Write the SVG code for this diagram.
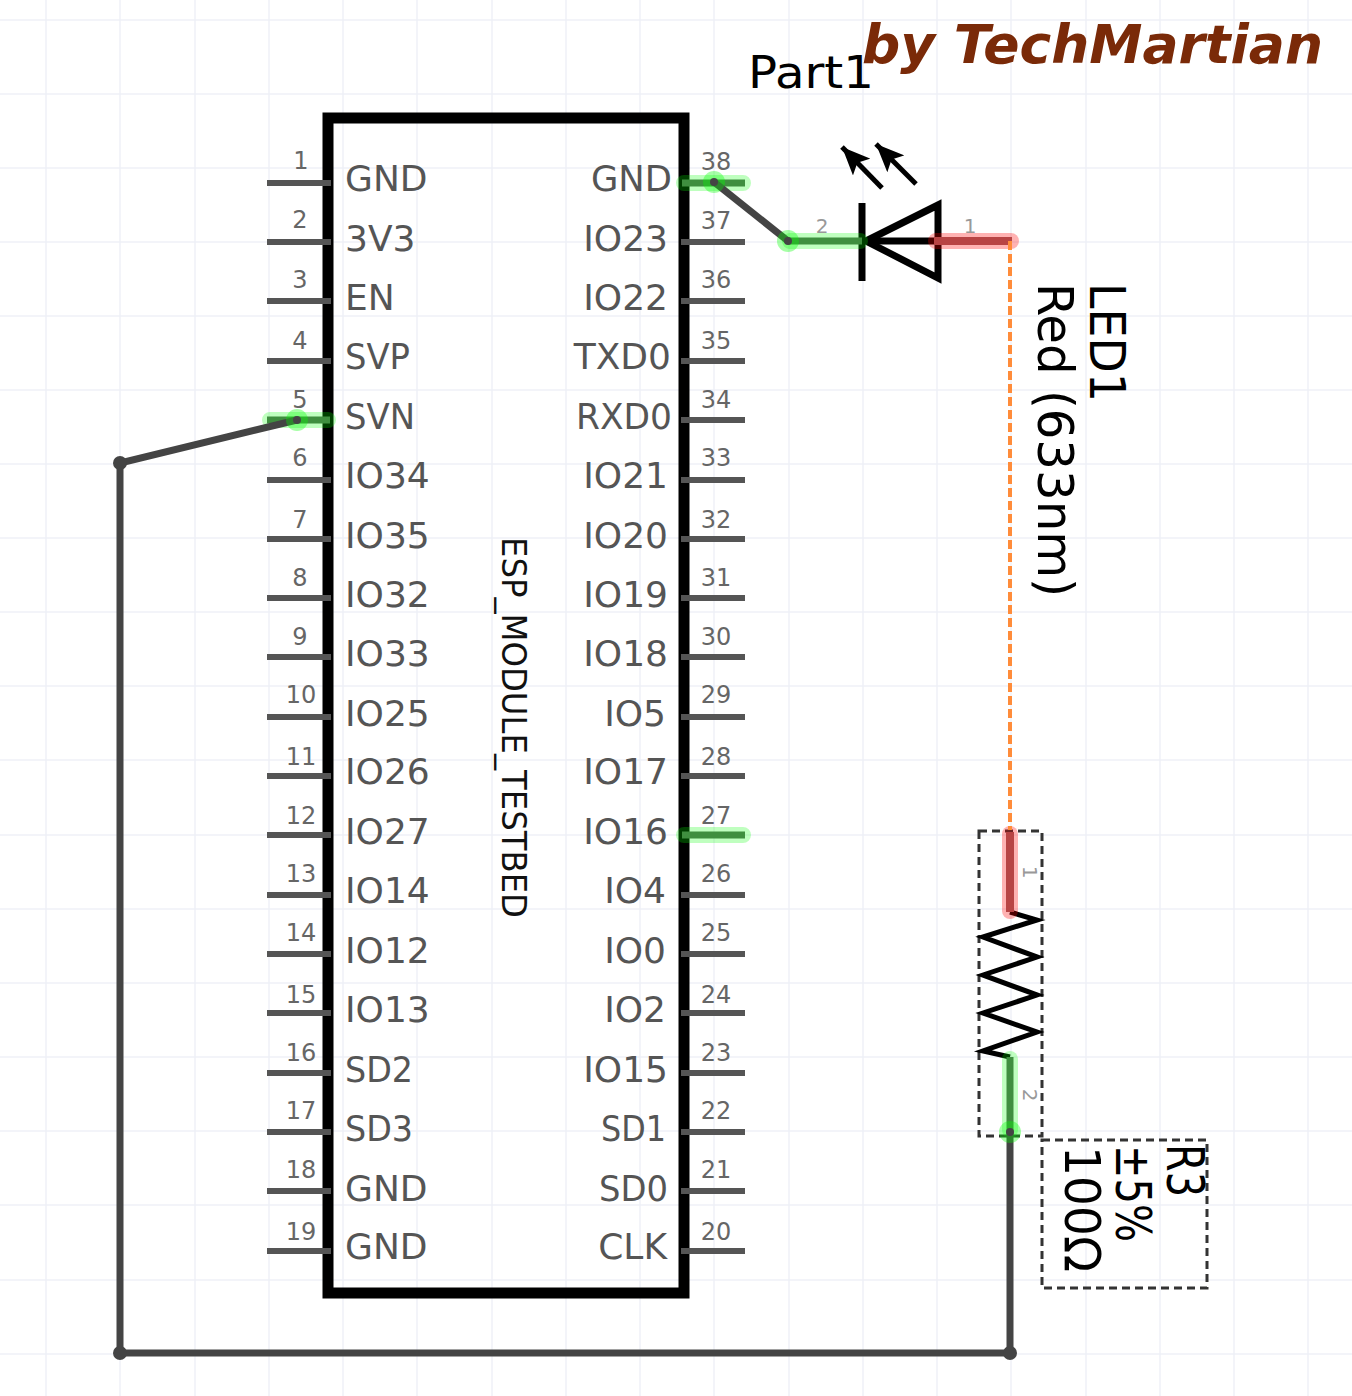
<svg xmlns="http://www.w3.org/2000/svg" width="1352" height="1396" viewBox="0 0 1352 1396">
<defs>
<style>
text{font-family:"DejaVu Sans",sans-serif}
.lab{font-size:36px;fill:#555}
.end{text-anchor:end}
.num{font-size:24px;fill:#666;text-anchor:middle}
.pin{stroke:#555;stroke-width:6;fill:none}
.small{font-size:20px;fill:#999;text-anchor:middle}
.big{font-size:50px;fill:#000}
.glow{stroke:#0f0;stroke-opacity:.25;stroke-width:16;stroke-linecap:round;fill:none}
.gcore{stroke:#3f8f3f;stroke-width:7;fill:none}
.rglow{stroke:#f00;stroke-opacity:.3;stroke-width:16;stroke-linecap:round;fill:none}
.rcore{stroke:#b84444;stroke-width:8;fill:none}
.wire{stroke:#444;stroke-width:7;fill:none}
.dash{fill:none;stroke:#333;stroke-width:3;stroke-dasharray:8 5}
.dot{fill:#444}
.halo{fill:#0f0;fill-opacity:.35}
</style>
<marker id="arrow" markerUnits="userSpaceOnUse" markerWidth="30" markerHeight="24" refX="28" refY="12" orient="auto"><path d="M0 0L28 12L0 24L6 12Z" fill="#000"/></marker>
</defs>
<rect width="1352" height="1396" fill="#fff"/>
<path id="grid" fill="none" stroke="#eff1f7" stroke-width="1.5" d="M46 0V1396M120 0V1396M195 0V1396M269 0V1396M343 0V1396M417 0V1396M492 0V1396M566 0V1396M640 0V1396M714 0V1396M789 0V1396M863 0V1396M937 0V1396M1011 0V1396M1086 0V1396M1160 0V1396M1234 0V1396M1308 0V1396M0 20H1352M0 94H1352M0 168H1352M0 242H1352M0 316H1352M0 390H1352M0 464H1352M0 538H1352M0 612H1352M0 686H1352M0 760H1352M0 835H1352M0 909H1352M0 983H1352M0 1057H1352M0 1131H1352M0 1205H1352M0 1280H1352M0 1354H1352"/>
<g id="U1">
<rect x="328" y="118" width="356" height="1175" fill="none" stroke="#000" stroke-width="11"/>
<path class="pin" d="M267 183H331M267 242H331M267 301H331M267 361H331M267 480H331M267 539H331M267 598H331M267 657H331M267 717H331M267 776H331M267 835H331M267 895H331M267 954H331M267 1013H331M267 1073H331M267 1132H331M267 1191H331M267 1251H331M681 242H745M681 301H745M681 361H745M681 420H745M681 480H745M681 539H745M681 598H745M681 657H745M681 717H745M681 776H745M681 895H745M681 954H745M681 1013H745M681 1073H745M681 1132H745M681 1191H745M681 1251H745"/>
<text class="lab" x="345" y="191">GND</text><text class="lab" x="345" y="251">3V3</text><text class="lab" x="345" y="310">EN</text><text class="lab" x="345" y="369" textLength="65" lengthAdjust="spacingAndGlyphs">SVP</text><text class="lab" x="345" y="429" textLength="70" lengthAdjust="spacingAndGlyphs">SVN</text><text class="lab" x="345" y="488">IO34</text><text class="lab" x="345" y="548">IO35</text><text class="lab" x="345" y="607">IO32</text><text class="lab" x="345" y="666">IO33</text><text class="lab" x="345" y="726">IO25</text><text class="lab" x="345" y="784">IO26</text><text class="lab" x="345" y="844">IO27</text><text class="lab" x="345" y="903">IO14</text><text class="lab" x="345" y="963">IO12</text><text class="lab" x="345" y="1022">IO13</text><text class="lab" x="345" y="1082" textLength="68" lengthAdjust="spacingAndGlyphs">SD2</text><text class="lab" x="345" y="1141" textLength="68" lengthAdjust="spacingAndGlyphs">SD3</text><text class="lab" x="345" y="1201">GND</text><text class="lab" x="345" y="1259">GND</text>
<text class="lab" x="591" y="191" textLength="81" lengthAdjust="spacingAndGlyphs">GND</text><text class="lab end" x="668" y="251">IO23</text><text class="lab end" x="668" y="310">IO22</text><text class="lab end" x="671" y="369">TXD0</text><text class="lab" x="576" y="429" textLength="96" lengthAdjust="spacingAndGlyphs">RXD0</text><text class="lab end" x="668" y="488">IO21</text><text class="lab end" x="668" y="548">IO20</text><text class="lab end" x="668" y="607">IO19</text><text class="lab end" x="668" y="666">IO18</text><text class="lab end" x="666" y="726">IO5</text><text class="lab end" x="668" y="784">IO17</text><text class="lab end" x="668" y="844">IO16</text><text class="lab end" x="666" y="903">IO4</text><text class="lab end" x="666" y="963">IO0</text><text class="lab end" x="666" y="1022">IO2</text><text class="lab end" x="668" y="1082">IO15</text><text class="lab" x="601" y="1141" textLength="65" lengthAdjust="spacingAndGlyphs">SD1</text><text class="lab" x="599" y="1201" textLength="69" lengthAdjust="spacingAndGlyphs">SD0</text><text class="lab end" x="667" y="1259">CLK</text>
<text class="num" x="301" y="169">1</text><text class="num" x="300" y="228">2</text><text class="num" x="300" y="288">3</text><text class="num" x="300" y="349">4</text><text class="num" x="300" y="408">5</text><text class="num" x="300" y="466">6</text><text class="num" x="300" y="528">7</text><text class="num" x="300" y="586">8</text><text class="num" x="300" y="645">9</text><text class="num" x="301" y="703">10</text><text class="num" x="301" y="765">11</text><text class="num" x="301" y="824">12</text><text class="num" x="301" y="882">13</text><text class="num" x="301" y="941">14</text><text class="num" x="301" y="1003">15</text><text class="num" x="301" y="1061">16</text><text class="num" x="301" y="1119">17</text><text class="num" x="301" y="1178">18</text><text class="num" x="301" y="1240">19</text>
<text class="num" x="716" y="170">38</text><text class="num" x="716" y="229">37</text><text class="num" x="716" y="288">36</text><text class="num" x="716" y="349">35</text><text class="num" x="716" y="408">34</text><text class="num" x="716" y="466">33</text><text class="num" x="716" y="528">32</text><text class="num" x="716" y="586">31</text><text class="num" x="716" y="645">30</text><text class="num" x="716" y="703">29</text><text class="num" x="716" y="765">28</text><text class="num" x="716" y="824">27</text><text class="num" x="716" y="882">26</text><text class="num" x="716" y="941">25</text><text class="num" x="716" y="1003">24</text><text class="num" x="716" y="1061">23</text><text class="num" x="716" y="1119">22</text><text class="num" x="716" y="1178">21</text><text class="num" x="716" y="1240">20</text>
<text transform="translate(502 537) rotate(90)" font-size="33" fill="#111" textLength="381" lengthAdjust="spacingAndGlyphs">ESP_MODULE_TESTBED</text>
<path class="glow" d="M270 420H328M684 183H743M684 835H743"/>
<path class="gcore" d="M267 420H330M682 183H745M682 835H745"/>
<text x="748" y="88" font-size="45" textLength="126" lengthAdjust="spacingAndGlyphs">Part1</text>
</g>
<g id="LED1">
<path d="M862 203V281M866 241H938" stroke="#000" stroke-width="7" fill="none"/>
<path d="M866 241L938 205V278Z" fill="none" stroke="#000" stroke-width="7"/>
<path d="M882 188L842 147" stroke="#000" stroke-width="5" fill="none" marker-end="url(#arrow)"/>
<path d="M916 184L876 144" stroke="#000" stroke-width="5" fill="none" marker-end="url(#arrow)"/>
<path class="glow" d="M790 241H860"/><path class="gcore" d="M788 241H862"/>
<path class="rglow" d="M936 241H1011"/><path class="rcore" d="M934 241H1012"/>
<text class="small" x="822" y="233">2</text><text class="small" x="970" y="233">1</text>
<text class="big" transform="translate(1090 283) rotate(90)" textLength="119" lengthAdjust="spacingAndGlyphs">LED1</text>
<text class="big" transform="translate(1038 283) rotate(90)" textLength="314" lengthAdjust="spacingAndGlyphs">Red (633nm)</text>
</g>
<g id="R3">
<rect class="dash" x="979" y="831" width="63" height="305"/>
<path d="M1010 912L1037 920L983 937L1037 957L983 975L1037 995L983 1013L1037 1032L983 1051L1010 1057" fill="none" stroke="#000" stroke-width="5"/>
<path class="rglow" d="M1010 834V911"/><path class="rcore" d="M1010 832V912"/>
<path class="glow" d="M1010 1059V1130"/><path class="gcore" d="M1010 1057V1132"/>
<text class="small" transform="translate(1023 872) rotate(90)">1</text><text class="small" transform="translate(1023 1095) rotate(90)">2</text>
<rect class="dash" x="1042" y="1140" width="165" height="148"/>
<text transform="translate(1167 1144) rotate(90)" font-size="52" textLength="53" lengthAdjust="spacingAndGlyphs">R3</text>
<text transform="translate(1116 1145) rotate(90)" font-size="50" textLength="97" lengthAdjust="spacingAndGlyphs">±5%</text>
<text transform="translate(1065 1146) rotate(90)" font-size="50" textLength="126" lengthAdjust="spacingAndGlyphs">100Ω</text>
</g>
<g id="connectors">
<path class="wire" d="M714 182L788 241"/>
<path d="M1010 241V830" fill="none" stroke="#ff8c3a" stroke-width="4" stroke-dasharray="9 4"/>
<path class="wire" d="M297 420L120 463V1353H1010V1132"/>
<circle class="halo" cx="714" cy="182" r="11"/><circle class="dot" cx="714" cy="182" r="4"/>
<circle class="halo" cx="788" cy="241" r="11"/><circle class="dot" cx="788" cy="241" r="4"/>
<circle class="halo" cx="297" cy="420" r="11"/><circle class="dot" cx="297" cy="420" r="4"/>
<circle class="halo" cx="1010" cy="1132" r="11"/><circle class="dot" cx="1010" cy="1132" r="4"/>
<circle class="dot" cx="120" cy="463" r="7"/><circle class="dot" cx="120" cy="1353" r="7"/><circle class="dot" cx="1010" cy="1353" r="7"/>
</g>
<text id="title" x="862" y="63" font-size="54" font-weight="bold" font-style="italic" fill="#7a2a08" textLength="461" lengthAdjust="spacingAndGlyphs">by TechMartian</text>
</svg>
